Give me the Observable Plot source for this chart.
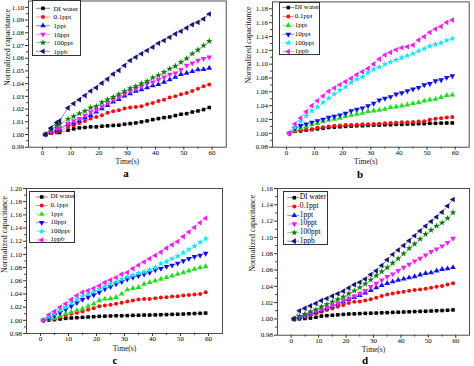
<!DOCTYPE html>
<html><head><meta charset="utf-8">
<script src="https://cdn.jsdelivr.net/npm/d3@7"></script>
<script src="https://cdn.jsdelivr.net/npm/@observablehq/plot@0.6"></script>
<style>
html,body{margin:0;padding:0;background:#fff;}
#fig{position:relative;width:474px;height:366px;overflow:hidden;font-family:"Liberation Serif","Times New Roman",serif;background:#fff;}
.legend{position:absolute;border:0.8px solid #333;background:#fff;box-sizing:border-box;}
.legend span{position:absolute;line-height:1;white-space:nowrap;transform:translateY(-50%);color:#000;}
.cap{position:absolute;font-weight:bold;font-size:11px;line-height:1;transform:translateX(-50%);}
</style></head><body><div id="fig"></div>
<script>
// ---------- data ----------
const seriesNames = ["DI water","0.1ppt","1ppt","10ppt","100ppt","1ppb"];
const timesA = [1,3,5,6,9,11,13,15,17,19,21,23,25,27,29,31,33,35,37,39,41,43,45,47,49,51,53,55,57,59];
const times  = [1,3,5,7,9,11,13,15,17,19,21,23,25,27,29,31,33,35,37,39,41,43,45,47,49,51,53,55,57,59];
const xTicks = [0,10,20,30,40,50,60];
const xMinor = [5,15,25,35,45,55];

// panel a
const aDI   = [1.000,1.001,1.0016,1.0016,1.0034,1.0044,1.0052,1.0055,1.006,1.006,1.0065,1.0068,1.0071,1.0073,1.0081,1.0086,1.0091,1.0099,1.0107,1.0117,1.0125,1.0133,1.0138,1.0149,1.0159,1.0164,1.0177,1.0185,1.0196,1.0212];
const a01   = [1.000,1.001,1.002,1.003,1.006,1.0073,1.009,1.0107,1.0125,1.0138,1.0151,1.017,1.0183,1.019,1.0204,1.0212,1.0217,1.0222,1.0238,1.0248,1.0264,1.0274,1.029,1.030,1.0316,1.0326,1.0342,1.036,1.0379,1.0394];
const a1    = [1.000,1.002,1.0035,1.004,1.0081,1.0091,1.0107,1.0133,1.0151,1.0177,1.0204,1.023,1.0256,1.0277,1.0303,1.0321,1.0342,1.0353,1.0368,1.0384,1.0394,1.0412,1.0431,1.0451,1.0473,1.0483,1.0496,1.051,1.0512,1.0522];
const a10   = [1.000,1.0025,1.0047,1.005,1.0086,1.0107,1.0125,1.0151,1.0177,1.0196,1.0222,1.0248,1.0274,1.0295,1.0321,1.0342,1.036,1.0379,1.040,1.0412,1.0431,1.0451,1.0473,1.0483,1.051,1.0543,1.0561,1.0582,1.0596,1.0608];
const a100  = [1.000,1.004,1.0071,1.0081,1.0122,1.0143,1.0165,1.0185,1.0212,1.0222,1.0253,1.0274,1.0295,1.0316,1.034,1.0363,1.0379,1.040,1.0418,1.0447,1.0465,1.049,1.0517,1.0538,1.0569,1.0598,1.0635,1.0666,1.070,1.0734];
const a1ppb = [1.000,1.0052,1.0094,1.0107,1.0209,1.0243,1.0274,1.0306,1.0342,1.0368,1.0404,1.0436,1.0475,1.0504,1.0543,1.0582,1.0608,1.0635,1.0661,1.0687,1.0718,1.0739,1.0765,1.0791,1.0812,1.0838,1.0864,1.0882,1.0909,1.0948];
// panel b
const bDI   = [1.000,1.003,1.0035,1.0045,1.0055,1.0065,1.0075,1.0085,1.009,1.0095,1.010,1.0105,1.011,1.011,1.0115,1.012,1.012,1.0125,1.0125,1.013,1.013,1.0135,1.0135,1.014,1.014,1.0145,1.0145,1.0148,1.015,1.015];
const b01   = [1.000,1.003,1.004,1.005,1.006,1.008,1.009,1.010,1.011,1.0115,1.012,1.012,1.0125,1.013,1.013,1.0135,1.014,1.0145,1.015,1.0155,1.016,1.016,1.0165,1.017,1.0175,1.0195,1.021,1.022,1.023,1.0235];
const b1    = [1.000,1.0048,1.0077,1.0101,1.0125,1.0144,1.0168,1.0192,1.0206,1.0221,1.0245,1.0264,1.0278,1.0293,1.0317,1.0326,1.0336,1.035,1.0374,1.0384,1.0398,1.0412,1.0432,1.0446,1.047,1.0484,1.0494,1.052,1.055,1.0555];
const b10   = [1.000,1.0072,1.011,1.0134,1.0158,1.0182,1.0201,1.023,1.0245,1.0264,1.0288,1.0326,1.0345,1.0365,1.0398,1.0432,1.048,1.0504,1.0528,1.0566,1.0585,1.0614,1.0638,1.0662,1.070,1.0719,1.0758,1.0772,1.0806,1.083];
const b100  = [1.000,1.0086,1.0173,1.0254,1.0326,1.0384,1.0446,1.0508,1.0566,1.0624,1.0671,1.0734,1.0782,1.0815,1.0878,1.0926,1.0959,1.0998,1.1031,1.106,1.1094,1.1122,1.1151,1.119,1.1223,1.1261,1.1285,1.1309,1.1343,1.1367];
const b1ppb = [1.000,1.0135,1.0222,1.0313,1.040,1.0472,1.054,1.0607,1.0655,1.0703,1.0747,1.0795,1.0848,1.0891,1.0939,1.1002,1.1074,1.1132,1.117,1.1209,1.1238,1.1252,1.1276,1.1349,1.1397,1.146,1.1508,1.1546,1.1604,1.1638];
// panel c
const cDI   = [1.000,1.0005,1.001,1.002,1.003,1.0035,1.004,1.0045,1.005,1.0055,1.006,1.0063,1.0066,1.007,1.007,1.0072,1.0075,1.0077,1.008,1.008,1.0082,1.0085,1.0087,1.009,1.0092,1.0095,1.010,1.0103,1.0106,1.011];
const c01   = [1.000,1.001,1.0025,1.005,1.0075,1.010,1.0115,1.0135,1.016,1.0185,1.0215,1.0225,1.0235,1.025,1.0265,1.0285,1.030,1.0315,1.0325,1.0325,1.0335,1.0345,1.035,1.036,1.0365,1.0375,1.0385,1.039,1.040,1.0425];
const c1    = [1.000,1.0015,1.0035,1.0065,1.010,1.0125,1.015,1.0175,1.0215,1.025,1.030,1.0325,1.033,1.035,1.040,1.0465,1.0485,1.050,1.055,1.0575,1.060,1.0625,1.065,1.0675,1.070,1.0725,1.075,1.0775,1.080,1.0815];
const c10   = [1.000,1.0025,1.0075,1.0115,1.0165,1.0215,1.0265,1.0315,1.035,1.0385,1.0425,1.0475,1.051,1.055,1.0585,1.0625,1.065,1.0675,1.070,1.0725,1.0765,1.0785,1.0815,1.0835,1.0865,1.090,1.0935,1.0965,1.0985,1.1015];
const c100  = [1.000,1.005,1.010,1.015,1.020,1.0265,1.0315,1.0365,1.040,1.0435,1.0475,1.0515,1.055,1.0585,1.0625,1.066,1.0685,1.0715,1.0735,1.0765,1.080,1.086,1.089,1.0935,1.0975,1.1025,1.1075,1.1125,1.1185,1.124];
const c1ppb = [1.000,1.0085,1.0135,1.020,1.025,1.0315,1.0375,1.0425,1.045,1.0485,1.0525,1.0575,1.061,1.065,1.070,1.0725,1.0785,1.0835,1.0885,1.0935,1.0985,1.1035,1.1095,1.1145,1.1195,1.127,1.134,1.141,1.148,1.155];
// panel d
const dDI   = [1.000,1.000,1.0005,1.001,1.002,1.0035,1.004,1.0045,1.005,1.0055,1.006,1.0062,1.0065,1.0068,1.007,1.0072,1.0075,1.0077,1.008,1.0082,1.0085,1.0087,1.009,1.0092,1.0094,1.0097,1.010,1.0103,1.0106,1.011];
const d01   = [1.000,1.0014,1.0027,1.0047,1.0067,1.0088,1.0108,1.0129,1.015,1.017,1.0195,1.021,1.0215,1.0225,1.024,1.026,1.028,1.030,1.0313,1.0325,1.0333,1.0346,1.0354,1.0362,1.037,1.0383,1.0395,1.0403,1.0423,1.0436];
const d1    = [1.000,1.002,1.004,1.006,1.008,1.010,1.0125,1.015,1.018,1.021,1.024,1.0265,1.029,1.032,1.035,1.0383,1.041,1.0436,1.0456,1.0477,1.049,1.0506,1.052,1.054,1.056,1.0567,1.059,1.0608,1.0616,1.0632];
const d10   = [1.000,1.0027,1.0047,1.0067,1.0096,1.0117,1.0141,1.0166,1.019,1.0223,1.0252,1.028,1.0313,1.0346,1.0395,1.0436,1.0477,1.0518,1.055,1.0591,1.0632,1.0669,1.071,1.0742,1.0783,1.0824,1.0857,1.0894,1.0935,1.0988];
const d100  = [1.000,1.0035,1.006,1.009,1.0115,1.015,1.018,1.021,1.024,1.027,1.031,1.0345,1.0385,1.043,1.048,1.053,1.058,1.063,1.0685,1.074,1.080,1.0865,1.092,1.098,1.104,1.109,1.114,1.118,1.1235,1.1305];
const d1ppb = [1.000,1.010,1.013,1.016,1.019,1.0225,1.025,1.028,1.031,1.034,1.038,1.042,1.045,1.049,1.0545,1.059,1.0655,1.0725,1.079,1.0845,1.090,1.096,1.102,1.108,1.114,1.1195,1.125,1.131,1.1385,1.1465];

const yTicksA = [0.99,1.00,1.01,1.02,1.03,1.04,1.05,1.06,1.07,1.08,1.09,1.10];
const yMinorA = [0.995,1.005,1.015,1.025,1.035,1.045,1.055,1.065,1.075,1.085,1.095];
const yTicksB = [0.98,1.00,1.02,1.04,1.06,1.08,1.10,1.12,1.14,1.16,1.18];
const yMinorB = [0.99,1.01,1.03,1.05,1.07,1.09,1.11,1.13,1.15,1.17];
const yTicksC = [0.98,1.00,1.02,1.04,1.06,1.08,1.10,1.12,1.14,1.16,1.18,1.20];
const yMinorC = [0.99,1.01,1.03,1.05,1.07,1.09,1.11,1.13,1.15,1.17,1.19];
const yTicksD = [0.98,1.00,1.02,1.04,1.06,1.08,1.10,1.12,1.14,1.16];
const yMinorD = [0.99,1.01,1.03,1.05,1.07,1.09,1.11,1.13,1.15];

const colorsAD = ["#000000","#ee1111","#1111ee","#ee22ee","#0a7a0a","#15157a"];
const colorsBC = ["#000000","#ee1111","#22dd22","#1111dd","#11e5f5","#ee22ee"];

// ---------- symbols ----------
function triangle(deg){
  const a0 = deg*Math.PI/180;
  return {draw(ctx,size){
    const R = Math.sqrt(size/(3*Math.sqrt(3)/4));
    for(let k=0;k<3;k++){const a=a0+k*2*Math.PI/3;const x=R*Math.cos(a),y=R*Math.sin(a);if(k)ctx.lineTo(x,y);else ctx.moveTo(x,y);}
    ctx.closePath();
  }};
}
const symbols = [d3.symbolSquare, d3.symbolCircle, triangle(-90), triangle(90), d3.symbolStar, triangle(180)];
const radii = [2.0, 2.0, 2.1, 2.1, 2.1, 2.1];

const fig = document.getElementById("fig");

const panels = [
  {left:0, top:0, w:237, h:183, mL:28, mR:11.3, mT:0.5, mB:36.3, yDomain:[0.99,1.105], yTicks:yTicksA, yMinor:yMinorA,
   times:timesA, values:[aDI,a01,a1,a10,a100,a1ppb], colors:colorsAD, ylabDx:-21, ylabDy:12, xlabDy:16.8, xlabDx:0,
   legend:{x:32,y:0,w:48.5,h:55.5,rows:[8.3,17,25.7,34.3,42.7,51.3],l1:36,l2:50,mx:43,tx:53.3,fs:7}, cap:{x:126,y:168,t:"a"}},
  {left:237, top:0, w:237, h:183, mL:35, mR:5.3, mT:1.4, mB:36.3, yDomain:[0.98,1.19], yTicks:yTicksB, yMinor:yMinorB,
   times:times, values:[bDI,b01,b1,b10,b100,b1ppb], colors:colorsBC, ylabDx:-24, ylabDy:9, xlabDy:16.8, xlabDx:-5,
   legend:{x:278.7,y:1.7,w:41.5,h:53.6,rows:[7.3,16.3,25,34,42.7,51.3],l1:282,l2:294,mx:288,tx:294.5,fs:7}, cap:{x:360,y:168.5,t:"b"}},
  {left:0, top:183, w:237, h:183, mL:26, mR:15, mT:5, mB:33, yDomain:[0.98,1.20], yTicks:yTicksC, yMinor:yMinorC,
   times:times, values:[cDI,c01,c1,c10,c100,c1ppb], colors:colorsBC, ylabDx:-22, ylabDy:12, xlabDy:17, xlabDx:0,
   legend:{x:29.3,y:191.3,w:46,h:52,rows:[196.3,204.8,213.5,222,230.7,239.3],l1:35,l2:47,mx:41,tx:50.3,fs:7}, cap:{x:115,y:355,t:"c"}},
  {left:237, top:183, w:237, h:183, mL:40, mR:5, mT:5, mB:31.3, yDomain:[0.98,1.16], yTicks:yTicksD, yMinor:yMinorD,
   times:times, values:[dDI,d01,d1,d10,d100,d1ppb], colors:colorsAD, ylabDx:-25, ylabDy:10, xlabDy:17, xlabDx:0,
   legend:{x:282.7,y:191.3,w:45.5,h:53.4,rows:[197,205.7,214.7,223.3,232,240.5],l1:287,l2:299,mx:294,tx:299.5,fs:7.5}, cap:{x:365,y:355,t:"d"}}
];

function drawPanel(p){
  const marks = [Plot.frame({stroke:"#3a3a3a", strokeWidth:0.9})];
  p.values.forEach((vals,i)=>{
    const rows = p.times.map((t,j)=>({t, v:vals[j]}));
    marks.push(Plot.line(rows,{x:"t",y:"v",stroke:p.colors[i],strokeWidth:0.6,strokeOpacity:0.8}));
    marks.push(Plot.dot(rows,{x:"t",y:"v",fill:p.colors[i],stroke:"none",symbol:symbols[i],r:radii[i]}));
  });
  marks.push(
    Plot.axisX(xTicks,{anchor:"bottom",tickSize:3,tickPadding:0,fontSize:7,label:null,stroke:"#333"}),
    Plot.axisX(xMinor,{anchor:"bottom",tickSize:1.8,tickFormat:()=>"",label:null,stroke:"#333"}),
    Plot.axisY(p.yTicks,{anchor:"left",tickSize:3,tickPadding:1.5,fontSize:7,label:null,stroke:"#333",tickFormat:d=>d.toFixed(2)}),
    Plot.axisY(p.yMinor,{anchor:"left",tickSize:1.8,tickFormat:()=>"",label:null,stroke:"#333"}),
    Plot.text(["Time(s)"],{frameAnchor:"bottom",dy:p.xlabDy,dx:p.xlabDx,fontSize:7.5,fill:"#111"}),
    Plot.text(["Normalized capacitance"],{frameAnchor:"left",dx:p.ylabDx,dy:p.ylabDy,rotate:-90,fontSize:8,fill:"#111"})
  );
  const svg = Plot.plot({
    width:p.w, height:p.h, marginLeft:p.mL, marginRight:p.mR, marginTop:p.mT, marginBottom:p.mB,
    x:{domain:[-5,65], label:null}, y:{domain:p.yDomain, label:null},
    style:{fontFamily:"'Liberation Serif','Times New Roman',serif", background:"transparent", overflow:"visible"},
    marks
  });
  svg.style.position = "absolute";
  svg.style.left = p.left + "px";
  svg.style.top = p.top + "px";
  fig.appendChild(svg);

  // legend
  const L = p.legend;
  const box = document.createElement("div");
  box.className = "legend";
  Object.assign(box.style,{left:L.x+"px",top:L.y+"px",width:L.w+"px",height:L.h+"px"});
  const ns = "http://www.w3.org/2000/svg";
  const sw = document.createElementNS(ns,"svg");
  sw.setAttribute("width",L.w); sw.setAttribute("height",L.h);
  sw.style.position="absolute"; sw.style.left="-0.8px"; sw.style.top="-0.8px"; sw.style.overflow="visible";
  seriesNames.forEach((name,i)=>{
    const ry = L.rows[i]-L.y;
    const ln = document.createElementNS(ns,"line");
    ln.setAttribute("x1",L.l1-L.x); ln.setAttribute("x2",L.l2-L.x); ln.setAttribute("y1",ry); ln.setAttribute("y2",ry);
    ln.setAttribute("stroke",p.colors[i]); ln.setAttribute("stroke-width",0.6); ln.setAttribute("stroke-opacity",0.8);
    sw.appendChild(ln);
    const pt = document.createElementNS(ns,"path");
    pt.setAttribute("d", d3.symbol(symbols[i], Math.PI*radii[i]*radii[i])());
    pt.setAttribute("transform",`translate(${L.mx-L.x},${ry})`);
    pt.setAttribute("fill",p.colors[i]);
    sw.appendChild(pt);
    const s = document.createElement("span");
    s.textContent = name;
    Object.assign(s.style,{left:(L.tx-L.x-0.8)+"px",top:(ry-0.8)+"px",fontSize:L.fs+"px"});
    box.appendChild(s);
  });
  box.appendChild(sw);
  fig.appendChild(box);

  const c = document.createElement("div");
  c.className="cap"; c.textContent=p.cap.t;
  Object.assign(c.style,{left:p.cap.x+"px",top:p.cap.y+"px"});
  fig.appendChild(c);
}
panels.forEach(drawPanel);
</script></body></html>
